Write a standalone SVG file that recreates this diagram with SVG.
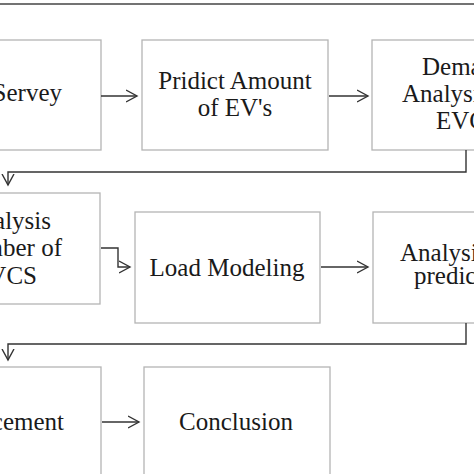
<svg xmlns="http://www.w3.org/2000/svg" width="474" height="474" viewBox="0 0 474 474">
<style>
.box{fill:#fff;stroke:#b4b4b4;stroke-width:1.3}
.t{font-family:"Liberation Serif","Times New Roman",serif;font-size:25px;fill:#1a1a1a}
.c{fill:none;stroke:#333;stroke-width:1.4}
</style>
<defs>
<marker id="ah" markerUnits="userSpaceOnUse" markerWidth="14" markerHeight="14" refX="11" refY="7" orient="auto" viewBox="0 0 14 14">
<path d="M0,1 L11,7 L0,13" fill="none" stroke="#333" stroke-width="1.4"/>
</marker>
</defs>
<rect width="474" height="474" fill="#fff"/>
<line x1="0" y1="4" x2="474" y2="4" stroke="#444" stroke-width="1.5"/>
<g id="n1"><rect class="box" x="-60" y="40" width="161" height="110"/><text class="t" x="62" y="101" text-anchor="end">Servey</text></g>
<g id="n2"><rect class="box" x="142" y="40" width="186" height="110"/><text class="t" x="235" y="89" text-anchor="middle">Pridict Amount</text><text class="t" x="235" y="116" text-anchor="middle">of EV's</text></g>
<g id="n3"><rect class="box" x="372" y="40" width="186" height="110"/><text class="t" x="422" y="75">Demand</text><text class="t" x="402" y="102">Analysis of</text><text class="t" x="436" y="129">EVCS</text></g>
<g id="n4"><rect class="box" x="-80" y="193" width="180" height="111"/><text class="t" x="51" y="229" text-anchor="end">Analysis</text><text class="t" x="62" y="256" text-anchor="end">Number of</text><text class="t" x="37" y="284" text-anchor="end">EVCS</text></g>
<g id="n5"><rect class="box" x="135" y="212" width="185" height="111"/><text class="t" x="227" y="276" text-anchor="middle">Load Modeling</text></g>
<g id="n6"><rect class="box" x="373" y="212" width="186" height="111"/><text class="t" x="400" y="261">Analysis of</text><text class="t" x="414" y="284">prediction</text></g>
<g id="n7"><rect class="box" x="-80" y="367" width="181" height="130"/><text class="t" x="64" y="430" text-anchor="end">Placement</text></g>
<g id="n8"><rect class="box" x="144" y="367" width="186" height="130"/><text class="t" x="236" y="430" text-anchor="middle">Conclusion</text></g>
<g id="connectors">
<path class="c" d="M101,96 H137" marker-end="url(#ah)"/>
<path class="c" d="M329,96 H368" marker-end="url(#ah)"/>
<path class="c" d="M466,150 V172 H8 V185" marker-end="url(#ah)"/>
<path class="c" d="M101,248 H118 V267 H130" marker-end="url(#ah)"/>
<path class="c" d="M321,267 H368" marker-end="url(#ah)"/>
<path class="c" d="M466,323 V344 H8 V360" marker-end="url(#ah)"/>
<path class="c" d="M102,422 H139" marker-end="url(#ah)"/>
</g>
</svg>
